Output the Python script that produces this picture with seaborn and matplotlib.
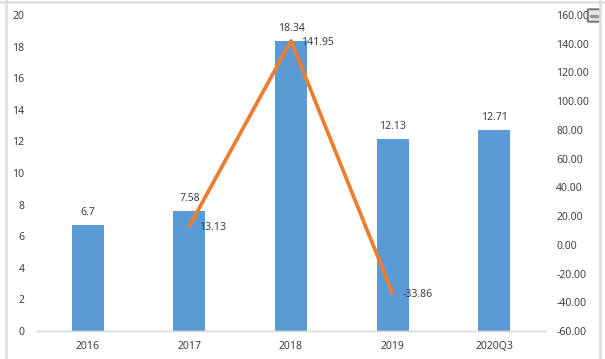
import numpy as np
import pandas as pd
import matplotlib
matplotlib.use('Agg')
import matplotlib.pyplot as plt
from matplotlib.lines import Line2D
from matplotlib.patches import FancyBboxPatch
import seaborn as sns

periods = ['2016', '2017', '2018', '2019', '2020Q3']
values = [6.7, 7.58, 18.34, 12.13, 12.71]
growth = [np.nan, 13.13, 141.95, -33.86, np.nan]
left_ticks = list(range(0, 21, 2))
right_ticks = list(range(-60, 161, 20))

BLUE = '#5B9BD5'
ORANGE = '#ED7D31'
TEXT = '#404040'
GRID = '#D9D9D9'

sns.set_theme(style='white')
plt.rcParams['font.family'] = ['Noto Sans', 'DejaVu Sans']

df = pd.DataFrame({'period': periods, 'value': values, 'growth': growth})

fig = plt.figure(figsize=(6.05, 3.59), dpi=100)
ax = fig.add_axes([37 / 605, 1 - 331 / 359, 508 / 605, 316 / 359])

sns.barplot(data=df, x='period', y='value', color=BLUE, saturation=1, width=0.315,
            linewidth=0, ax=ax)
ax.set_xlim(-0.5, 4.5)
ax.set_ylim(0, 20)
ax.set_yticks(left_ticks)
ax.set_xlabel('')
ax.set_ylabel('')

ax2 = ax.twinx()
sns.lineplot(data=df, x='period', y='growth', color=ORANGE, linewidth=2.7, ax=ax2)
ax2.set_ylim(-60, 160)
ax2.set_yticks(right_ticks)
ax2.set_yticklabels([f'{t:.2f}' for t in right_ticks])
ax2.set_xlabel('')
ax2.set_ylabel('')

for a in (ax, ax2):
    for side in ('top', 'left', 'right'):
        a.spines[side].set_visible(False)
    a.spines['bottom'].set_color(GRID)
    a.spines['bottom'].set_linewidth(1)
    a.tick_params(length=0, labelsize=7.5, labelcolor=TEXT)
ax.tick_params(axis='x', pad=7)
ax.tick_params(axis='y', pad=9)
ax2.tick_params(axis='y', pad=8)

# bar labels sit above the bars, line labels to the right of the points
for i, v in enumerate(values):
    ax.annotate(f'{v:g}', (i, v), xytext=(0, 5), textcoords='offset points',
                ha='center', va='bottom', fontsize=7.5, color=TEXT)
for i, v in enumerate(growth):
    if np.isnan(v):
        continue
    ax2.annotate(f'{v:.2f}', (i, v), xytext=(7, -1), textcoords='offset points',
                 ha='left', va='center', fontsize=7.5, color=TEXT, zorder=6)

# outer frame of the pasted chart
W, H = 605, 359
frame = [((6, 6), (0, H)), ((0, W), (H - 1.5, H - 1.5)), ((600, 600), (0, H))]
for xs, ys in frame:
    fig.add_artist(Line2D([x / W for x in xs], [y / H for y in ys], color='#DDE1E1', lw=2))

# small collapse button in the top right corner
fig.add_artist(FancyBboxPatch((589 / W, 1 - 21 / H), 10 / W, 11 / H, boxstyle='round,pad=0.002',
                              transform=fig.transFigure, fc='#E8E8E8', ec='#7A7A7A', lw=1.5))
fig.add_artist(Line2D([591 / W, 597 / W], [1 - 15.5 / H, 1 - 15.5 / H], color='#8A9A9A', lw=2.5))

fig.savefig('out.png', dpi=100)
